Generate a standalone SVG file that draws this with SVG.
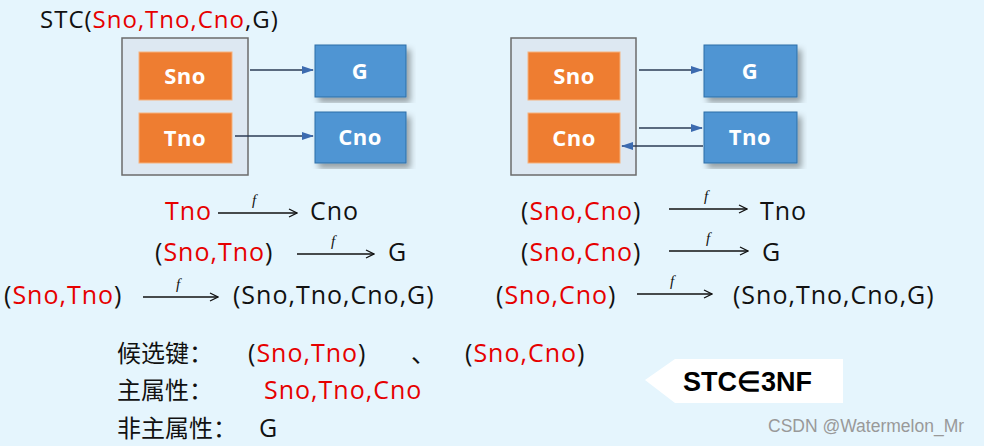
<svg xmlns="http://www.w3.org/2000/svg" width="984" height="446" viewBox="0 0 984 446">
<defs>
<style>
text{font-family:"Open Sans","Noto Sans","Noto Sans CJK SC",sans-serif;font-size:25px;letter-spacing:1px;fill:#111}
.r{fill:#e60000}
.box{fill:#dde8f2;stroke:#6b6b6b;stroke-width:1.5}
.or{fill:#ee7d31;stroke:#f7b27d;stroke-width:1}
.bl{fill:#4f95d3;stroke:#2f6ea7;stroke-width:1}
.nl{fill:#fff;font-weight:bold;font-size:22px;letter-spacing:0.5px;text-anchor:middle}
.c line{stroke:#2b3b55;stroke-width:1.3}
.f{font-family:"Liberation Serif",serif;font-style:italic;font-size:15px}
.ar{stroke:#111;stroke-width:1.3}
</style>
<marker id="m" markerWidth="12" markerHeight="8" refX="11" refY="4" orient="auto" markerUnits="userSpaceOnUse"><path d="M0,0L12,4L0,8z" fill="#3c6bb0"/></marker>
<marker id="k" markerWidth="10" markerHeight="10" refX="9" refY="5" orient="auto" markerUnits="userSpaceOnUse"><path d="M1,1L9,5L1,9" fill="none" stroke="#111" stroke-width="1.3"/></marker>
<filter id="s"><feDropShadow dx="4" dy="5" stdDeviation="3" flood-opacity="0.35"/></filter>
</defs>
<rect width="984" height="446" fill="#e5f5fd"/>
<text x="40" y="28" style="font-size:24px">STC(<tspan class="r">Sno,Tno,Cno</tspan>,G)</text>
<g id="left-group"><rect class="box" x="122" y="38" width="126" height="137"/></g>
<g id="l-sno"><rect class="or" x="139" y="52" width="93" height="48"/><text class="nl" x="185" y="84">Sno</text></g>
<g id="l-tno"><rect class="or" x="139" y="113" width="93" height="50"/><text class="nl" x="185" y="146">Tno</text></g>
<g id="l-g"><rect class="bl" x="315" y="45" width="91" height="52" filter="url(#s)"/><text class="nl" x="360" y="79">G</text></g>
<g id="l-cno"><rect class="bl" x="315" y="112" width="91" height="51" filter="url(#s)"/><text class="nl" x="360" y="145">Cno</text></g>
<g id="right-group"><rect class="box" x="511" y="38" width="125" height="137"/></g>
<g id="r-sno"><rect class="or" x="528" y="52" width="92" height="48"/><text class="nl" x="574" y="84">Sno</text></g>
<g id="r-cno"><rect class="or" x="528" y="113" width="92" height="50"/><text class="nl" x="574" y="146">Cno</text></g>
<g id="r-g"><rect class="bl" x="704" y="45" width="93" height="52" filter="url(#s)"/><text class="nl" x="750" y="79">G</text></g>
<g id="r-tno"><rect class="bl" x="704" y="112" width="93" height="51" filter="url(#s)"/><text class="nl" x="750" y="145">Tno</text></g>
<g class="c" id="connectors">
<line x1="250" y1="70" x2="313" y2="70" marker-end="url(#m)"/>
<line x1="235" y1="136" x2="313" y2="136" marker-end="url(#m)"/>
<line x1="639" y1="70" x2="702" y2="70" marker-end="url(#m)"/>
<line x1="639" y1="128" x2="702" y2="128" marker-end="url(#m)"/>
<line x1="703" y1="146" x2="622" y2="146" marker-end="url(#m)"/>
</g>
<g id="fds">
<text x="165" y="220" class="r">Tno</text><line class="ar" x1="218" y1="213" x2="297" y2="213" marker-end="url(#k)"/><text class="f" x="252" y="205">f</text><text x="310" y="220">Cno</text>
<text x="155" y="261">(<tspan class="r">Sno,Tno</tspan>)</text><line class="ar" x1="297" y1="254" x2="374" y2="254" marker-end="url(#k)"/><text class="f" x="331" y="246">f</text><text x="388" y="261">G</text>
<text x="4" y="304">(<tspan class="r">Sno,Tno</tspan>)</text><line class="ar" x1="143" y1="297" x2="218" y2="297" marker-end="url(#k)"/><text class="f" x="176" y="289">f</text><text x="233" y="304">(Sno,Tno,Cno,G)</text>
<text x="521" y="220">(<tspan class="r">Sno,Cno</tspan>)</text><line class="ar" x1="669" y1="209" x2="747" y2="209" marker-end="url(#k)"/><text class="f" x="704" y="201">f</text><text x="760" y="220">Tno</text>
<text x="521" y="261">(<tspan class="r">Sno,Cno</tspan>)</text><line class="ar" x1="669" y1="251" x2="748" y2="251" marker-end="url(#k)"/><text class="f" x="706" y="243">f</text><text x="762" y="261">G</text>
<text x="496" y="304">(<tspan class="r">Sno,Cno</tspan>)</text><line class="ar" x1="637" y1="294" x2="712" y2="294" marker-end="url(#k)"/><text class="f" x="670" y="286">f</text><text x="733" y="304">(Sno,Tno,Cno,G)</text>
</g>
<g id="keys">
<text x="117" y="362" style="letter-spacing:0;font-size:24px">候选键：</text><text x="248" y="362">(<tspan class="r">Sno,Tno</tspan>)</text><text x="411" y="362">、</text><text x="465" y="362">(<tspan class="r">Sno,Cno</tspan>)</text>
<text x="117" y="399" style="letter-spacing:0;font-size:24px">主属性：</text><text x="264" y="399" class="r">Sno,Tno,Cno</text>
<text x="117" y="437" style="letter-spacing:0;font-size:24px">非主属性：</text><text x="259" y="437">G</text>
</g>
<g id="badge"><path d="M645,380L675,359H843V403H675z" fill="#fff"/><text x="683" y="391" style="font-family:'Liberation Sans',sans-serif;font-weight:bold;font-size:27px;letter-spacing:0;fill:#000">STC∈3NF</text></g>
<text x="768" y="432" style="font-family:'Liberation Sans',sans-serif;font-size:17.5px;letter-spacing:0;fill:#999">CSDN @Watermelon_Mr</text>
</svg>
